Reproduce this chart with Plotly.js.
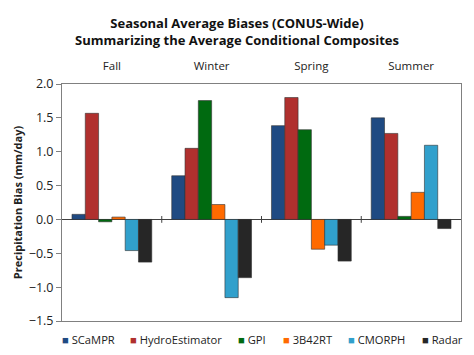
<!DOCTYPE html>
<html><head><meta charset="utf-8">
<script src="https://cdn.plot.ly/plotly-3.0.1.min.js"></script>
<style>body{margin:0;padding:0;background:#fff}#chart{width:474px;height:355px}</style>
</head><body><div id="chart"></div>
<script>
var seasons = ["Fall", "Winter", "Spring", "Summer"];
var seriesNames = ["SCaMPR", "HydroEstimator", "GPI", "3B42RT", "CMORPH", "Radar"];
var SCaMPR = [0.075, 0.645, 1.385, 1.50];
var HydroEstimator = [1.567, 1.05, 1.80, 1.27];
var GPI = [-0.035, 1.755, 1.325, 0.045];
var B42RT = [0.035, 0.22, -0.44, 0.40];
var CMORPH = [-0.46, -1.155, -0.38, 1.095];
var Radar = [-0.63, -0.86, -0.615, -0.135];
var colors = ["#1f4a82", "#b0302e", "#006a10", "#ff6a00", "#31a0cc", "#262626"];
var values = [SCaMPR, HydroEstimator, GPI, B42RT, CMORPH, Radar];

var traces = values.map(function(v, i){
  return {type:'bar', name:seriesNames[i], x:seasons, y:v, showlegend:false,
    marker:{color:colors[i], line:{color:'#333', width:0.6}}};
});

var shapes = [];
for (var k = 0; k < seasons.length - 1; k++) {
  shapes.push({type:'line', xref:'x', yref:'y', x0:k+0.5, x1:k+0.5, y0:-0.05, y1:0.05,
    line:{color:'#404040', width:1}});
}

// custom one-row legend built from series names and colors
var legendX = [-0.005, 0.165, 0.437, 0.548, 0.713, 0.897];
var annotations = seriesNames.map(function(n, i){
  return {xref:'paper', yref:'paper', x:legendX[i], y:-0.08, xanchor:'left', yanchor:'middle',
    showarrow:false, text:'<span style="color:' + colors[i] + '">■</span> ' + n,
    font:{size:11.2, color:'#222'}};
});

var layout = {
  width:474, height:355,
  margin:{l:62, r:13, t:84, b:34},
  paper_bgcolor:'#fff', plot_bgcolor:'#fff',
  font:{family:'Open Sans, Lato, sans-serif', color:'#222', size:11},
  title:{text:'<b>Seasonal Average Biases (CONUS-Wide)<br>Summarizing the Average Conditional Composites</b>',
    x:0.5, xanchor:'center', y:0.92, yanchor:'middle', font:{size:13, color:'#111'}},
  barmode:'group', bargap:0.2, bargroupgap:0,
  xaxis:{side:'top', showline:true, mirror:true, linecolor:'#808080', linewidth:1,
    ticks:'', showgrid:false, tickfont:{size:11.5}, ticklabelstandoff:8, fixedrange:true},
  yaxis:{range:[-1.5, 2.0], dtick:0.5, tickformat:'.1f', showline:true, mirror:true,
    linecolor:'#808080', linewidth:1, ticks:'outside', ticklen:5, tickcolor:'#808080',
    showgrid:false, zeroline:true, zerolinecolor:'#404040', zerolinewidth:1,
    tickfont:{size:12.5},
    title:{text:'<b>Precipitation Bias (mm/day)</b>', font:{size:11}, standoff:3}},
  shapes:shapes,
  annotations:annotations,
  showlegend:false
};
Plotly.newPlot('chart', traces, layout, {displayModeBar:false, staticPlot:true});
</script></body></html>
